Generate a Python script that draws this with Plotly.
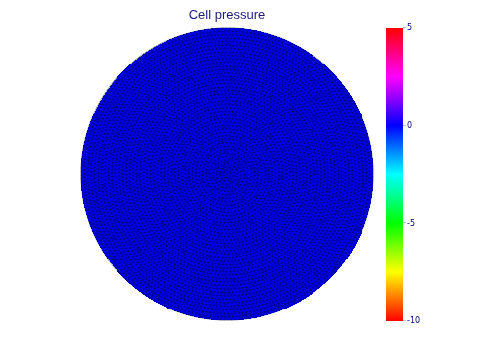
import numpy as np
import plotly.graph_objects as go

# ---- data ----
title_text = "Cell pressure"
# pressure per radial zone (centre -> rim); field is essentially uniform ~0
zone_radius = [0.0, 0.2, 0.4, 0.6, 0.8, 1.0]
zone_pressure = [0.0, 0.0, 0.0, 0.0, 0.0, 0.0]
cbar_min, cbar_max = -10, 5
cbar_ticks = [-10, -5, 0, 5]
cbar_ticktext = ["-10", "-5", "0", "5"]
n_rings = 42

# ---- pressure field on a grid (disk) ----
n = 300
gx = np.linspace(-1, 1, n)
gy = np.linspace(-1, 1, n)
X, Y = np.meshgrid(gx, gy)
R = np.sqrt(X**2 + Y**2)
Z = np.interp(R, zone_radius, zone_pressure)
Z[R > 1.0] = np.nan

colorscale = [[0, "#ff0000"], [1/6, "#ffff00"], [2/6, "#00ff00"], [3/6, "#00ffff"],
              [4/6, "#0000ff"], [5/6, "#ff00ff"], [1, "#ff0000"]]

fig = go.Figure()
fig.add_trace(go.Heatmap(
    x=gx, y=gy, z=Z, zmin=cbar_min, zmax=cbar_max, colorscale=colorscale,
    hoverinfo="skip",
    colorbar=dict(
        x=1.041, xanchor="left", xpad=0, y=0.5, yanchor="middle",
        len=0.995, lenmode="fraction", thickness=17, thicknessmode="pixels",
        outlinewidth=0, ypad=0,
        tickvals=cbar_ticks, ticktext=cbar_ticktext,
        ticks="outside", ticklen=3, tickcolor="#c8c8c8",
        tickfont=dict(size=8, color="#000080", family="DejaVu Sans"),
    ),
))

# ---- mesh edges (concentric ring triangulation) ----
xs, ys = [], []
rings = []
for k in range(n_rings + 1):
    r = k / n_rings
    m = max(1, 6 * k)
    off = (k * 0.37) % (2*np.pi)
    th = np.linspace(0, 2*np.pi, m, endpoint=False) + off
    rings.append((r, th, off))
    if k > 0:
        cx = np.append(r*np.cos(th), r*np.cos(th[0]))
        cy = np.append(r*np.sin(th), r*np.sin(th[0]))
        xs.extend(cx.tolist()); xs.append(None)
        ys.extend(cy.tolist()); ys.append(None)
for k in range(1, n_rings + 1):
    r, th, off = rings[k]
    r0, th0, off0 = rings[k-1]
    m0 = len(th0)
    for t in th:
        if m0 == 1:
            idx = [0]
        else:
            f = ((t - off0) % (2*np.pi)) / (2*np.pi) * m0
            idx = [int(np.floor(f)) % m0, int(np.ceil(f)) % m0]
        for i in set(idx):
            xs.extend([r*np.cos(t), r0*np.cos(th0[i]), None])
            ys.extend([r*np.sin(t), r0*np.sin(th0[i]), None])

fig.add_trace(go.Scattergl(x=xs, y=ys, mode="lines",
                           line=dict(color="rgba(0,0,60,0.55)", width=0.6),
                           hoverinfo="skip", showlegend=False))

fig.update_layout(
    width=480, height=360,
    margin=dict(l=72, r=114, t=19, b=47),
    paper_bgcolor="white", plot_bgcolor="white",
    title=dict(text=title_text, x=(72+147)/480, xanchor="center", y=1-6/360, yanchor="middle",
               font=dict(size=13, color="#1a1a80", family="Liberation Sans")),
    xaxis=dict(range=[-1.005, 1.005], visible=False, showgrid=False, zeroline=False),
    yaxis=dict(range=[-1.005, 1.005], visible=False, showgrid=False, zeroline=False),
    showlegend=False,
)
fig.write_html("out.html")
